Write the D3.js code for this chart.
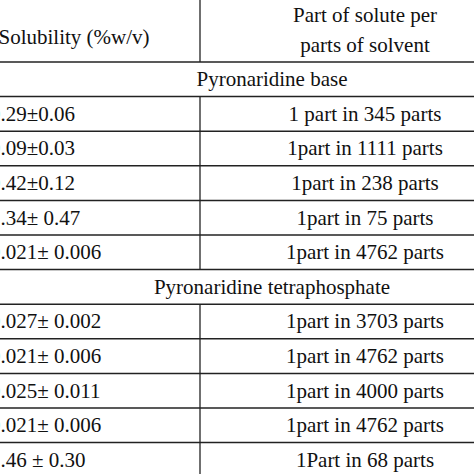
<!DOCTYPE html>
<html>
<head>
<meta charset="utf-8">
<script src="https://cdn.jsdelivr.net/npm/d3@7"></script>
<style>
  body { margin: 0; background: #fff; }
  text { font-family: "Liberation Serif", "DejaVu Serif", "Times New Roman", serif; font-size: 21px; fill: #111; }
</style>
</head>
<body>
<div id="table"></div>
<script>
var headerLeft = "Solubility (%w/v)";
var headerRight = ["Part of solute per", "parts of solvent"];
var groups = ["Pyronaridine base", "Pyronaridine tetraphosphate"];
var baseSolubility = ["0.29±0.06", "0.09±0.03", "0.42±0.12", "1.34± 0.47", "0.021± 0.006"];
var baseParts = ["1 part in 345 parts", "1part in 1111 parts", "1part in 238 parts", "1part in 75 parts", "1part in 4762 parts"];
var tetraSolubility = ["0.027± 0.002", "0.021± 0.006", "0.025± 0.011", "0.021± 0.006", "1.46 ± 0.30"];
var tetraParts = ["1part in 3703 parts", "1part in 4762 parts", "1part in 4000 parts", "1part in 4762 parts", "1Part in 68 parts"];

var width = 474, height = 474;
var divX = 200;

var svg = d3.select("#table").append("svg")
  .attr("width", width)
  .attr("height", height);

// rows: group title + 5 data rows, twice
var rows = [];
rows.push({ type: "group", label: groups[0] });
baseSolubility.forEach(function(s, i) { rows.push({ type: "data", sol: s, part: baseParts[i] }); });
rows.push({ type: "group", label: groups[1] });
tetraSolubility.forEach(function(s, i) { rows.push({ type: "data", sol: s, part: tetraParts[i] }); });

var y = d3.scaleBand()
  .domain(d3.range(rows.length))
  .range([62, 62 + 34.6 * rows.length]);

// header
svg.append("text").attr("x", 74).attr("y", 44).attr("text-anchor", "middle").text(headerLeft);
svg.selectAll(".hr").data(headerRight).enter().append("text")
  .attr("x", 365).attr("y", function(d, i) { return 22 + i * 30; })
  .attr("text-anchor", "middle").text(function(d) { return d; });
svg.append("line").attr("x1", divX).attr("x2", divX).attr("y1", 0).attr("y2", 62)
  .attr("stroke", "#222").attr("stroke-width", 1.3);

var g = svg.selectAll(".row").data(rows).enter().append("g")
  .attr("transform", function(d, i) { return "translate(0," + y(i) + ")"; });

g.append("line").attr("x1", 0).attr("x2", width).attr("y1", 0).attr("y2", 0)
  .attr("stroke", "#222").attr("stroke-width", 1.5);

var h = y.bandwidth();
g.filter(function(d) { return d.type === "group"; }).append("text")
  .attr("x", 272).attr("y", h / 2 + 7).attr("text-anchor", "middle")
  .text(function(d) { return d.label; });

var dg = g.filter(function(d) { return d.type === "data"; });
dg.append("line").attr("x1", divX).attr("x2", divX).attr("y1", 0).attr("y2", h)
  .attr("stroke", "#222").attr("stroke-width", 1.3);
dg.append("text").attr("x", -10).attr("y", h / 2 + 7)
  .text(function(d) { return d.sol; });
dg.append("text").attr("x", 365).attr("y", h / 2 + 7).attr("text-anchor", "middle")
  .text(function(d) { return d.part; });
</script>
</body>
</html>
